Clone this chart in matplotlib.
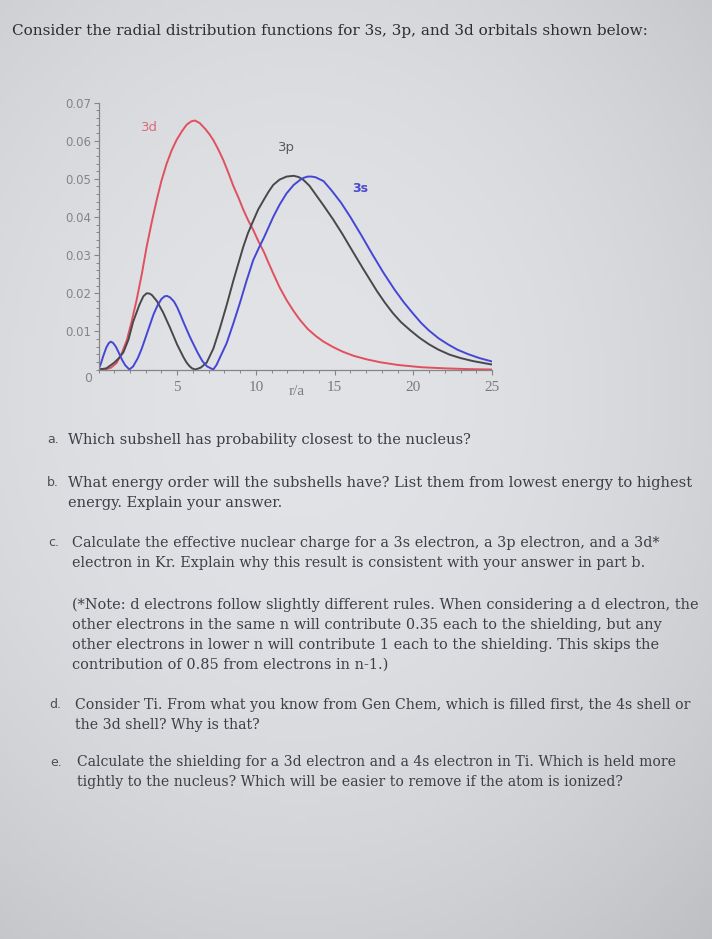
import numpy as np
import matplotlib
matplotlib.use("Agg")
import matplotlib.pyplot as plt
from matplotlib.ticker import MultipleLocator

# ---------- DATA ----------
r_3d = [0, 0.5, 0.8, 1.15, 1.5, 1.8, 2.1, 2.42, 2.75, 3.06, 3.4, 3.7, 4.0, 4.33,
        4.65, 4.96, 5.3, 5.6, 5.9, 6.13, 6.44, 6.8, 7.05, 7.29, 7.6, 7.92, 8.25,
        8.56, 8.9, 9.2, 9.5, 9.83, 10.15, 10.5, 10.8, 11.1, 11.5, 11.95, 12.4,
        12.8, 13.3, 13.8, 14.3, 14.9, 15.5, 16.2, 17.0, 17.9, 19.0, 20.5, 22.0,
        23.5, 25.0]
p_3d = [0, 0.0001, 0.0005, 0.0017, 0.0045, 0.0077, 0.0125, 0.0182, 0.025, 0.0322,
        0.039, 0.0445, 0.0495, 0.054, 0.0575, 0.0602, 0.0625, 0.0642, 0.0651,
        0.0653, 0.0646, 0.063, 0.0617, 0.0602, 0.0578, 0.055, 0.0516, 0.0482,
        0.045, 0.0419, 0.0392, 0.0366, 0.0337, 0.0309, 0.028, 0.0252, 0.0216,
        0.0182, 0.0153, 0.013, 0.0106, 0.0088, 0.0073, 0.0059, 0.0047, 0.0036,
        0.0027, 0.0019, 0.0012, 0.0006, 0.0003, 0.0001, 0.0]

r_3p = [0, 0.5, 1.0, 1.3, 1.58, 1.9, 2.2, 2.6, 2.85, 3.06, 3.25, 3.4, 3.7, 4.1,
        4.54, 5.0, 5.4, 5.6, 5.8, 5.95, 6.13, 6.3, 6.5, 6.87, 7.3, 7.71, 8.15,
        8.56, 8.9, 9.2, 9.5, 9.83, 10.15, 10.5, 10.8, 11.1, 11.5, 11.95, 12.4,
        12.7, 13.0, 13.4, 13.85, 14.3, 14.9, 15.5, 16.0, 16.8, 17.7, 18.2, 18.7,
        19.2, 19.8, 20.4, 21.0, 21.6, 22.3, 23.0, 23.8, 25.0]
p_3p = [0, 0.0003, 0.0018, 0.003, 0.0045, 0.0078, 0.0125, 0.017, 0.0192, 0.02,
        0.0199, 0.0195, 0.018, 0.015, 0.011, 0.0065, 0.0032, 0.0018, 0.0008,
        0.0003, 0.0, 0.0002, 0.0005, 0.0018, 0.0055, 0.0108, 0.017, 0.0232,
        0.028, 0.0322, 0.0358, 0.039, 0.042, 0.0445, 0.0466, 0.0484, 0.0498,
        0.0506, 0.0508, 0.0505, 0.0498, 0.0482, 0.0456, 0.043, 0.0394, 0.0355,
        0.032, 0.0265, 0.0205, 0.0175, 0.0148, 0.0125, 0.0103, 0.0083, 0.0066,
        0.0052, 0.0039, 0.003, 0.0022, 0.0013]

r_3s = [0, 0.15, 0.3, 0.5, 0.65, 0.78, 0.92, 1.1, 1.3, 1.5, 1.7, 1.96, 2.2, 2.5,
        2.75, 3.0, 3.25, 3.5, 3.75, 4.0, 4.2, 4.35, 4.55, 4.8, 5.0, 5.17, 5.4,
        5.6, 5.8, 6.0, 6.3, 6.6, 6.9, 7.29, 7.5, 7.7, 8.14, 8.56, 8.98, 9.4, 9.83,
        10.2, 10.5, 11.1, 11.5, 11.95, 12.4, 12.8, 13.05, 13.3, 13.55, 13.8, 14.3,
        14.8, 15.4, 16.0, 16.7, 17.4, 18.1, 18.8, 19.4, 20.0, 20.5, 21.0, 21.6,
        22.2, 22.8, 23.5, 24.2, 25.0]
p_3s = [0, 0.0015, 0.0035, 0.0058, 0.0069, 0.0073, 0.007, 0.006, 0.0043, 0.0025,
        0.0011, 0.0, 0.0008, 0.003, 0.0055, 0.0085, 0.0115, 0.0145, 0.0168,
        0.0185, 0.0192, 0.0193, 0.0189, 0.0178, 0.0163, 0.0147, 0.0124, 0.0105,
        0.0086, 0.0069, 0.0044, 0.0022, 0.0008, 0.0, 0.0012, 0.003, 0.0069,
        0.012, 0.0174, 0.0232, 0.0287, 0.032, 0.0345, 0.04, 0.0432, 0.0462,
        0.0484, 0.0497, 0.0503, 0.0506, 0.0506, 0.0504, 0.0494, 0.047, 0.0438,
        0.04, 0.0352, 0.0302, 0.0254, 0.021, 0.0176, 0.0146, 0.0122, 0.0102,
        0.0082, 0.0066, 0.0052, 0.004, 0.003, 0.0021]

title = "Consider the radial distribution functions for 3s, 3p, and 3d orbitals shown below:"

questions = [
    ("a.", ["Which subshell has probability closest to the nucleus?"]),
    ("b.", ["What energy order will the subshells have? List them from lowest energy to highest",
            "energy. Explain your answer."]),
    ("c.", ["Calculate the effective nuclear charge for a 3s electron, a 3p electron, and a 3d*",
            "electron in Kr. Explain why this result is consistent with your answer in part b."]),
    ("", ["(*Note: d electrons follow slightly different rules. When considering a d electron, the",
          "other electrons in the same n will contribute 0.35 each to the shielding, but any",
          "other electrons in lower n will contribute 1 each to the shielding. This skips the",
          "contribution of 0.85 from electrons in n-1.)"]),
    ("d.", ["Consider Ti. From what you know from Gen Chem, which is filled first, the 4s shell or",
            "the 3d shell? Why is that?"]),
    ("e.", ["Calculate the shielding for a 3d electron and a 4s electron in Ti. Which is held more",
            "tightly to the nucleus? Which will be easier to remove if the atom is ionized?"]),
]
# first-line y (px), left x (px) and font size of each block
q_y = [440, 483, 543, 605, 705, 762]
q_x = [68, 68, 72, 72, 75, 77]
q_size = [10.5, 10.5, 10.38, 10.43, 10.19, 10.1]
mark_x = [47, 47, 48, 0, 49, 50]

# ---------- FIGURE ----------
W, H = 712, 939
fig = plt.figure(figsize=(W / 100, H / 100), dpi=100)

def fx(x):
    return x / W

def fy(y):
    return 1 - y / H

# photo-like background (lighter middle, darker bottom corners)
bg = fig.add_axes([0, 0, 1, 1], zorder=-10)
yy, xx = np.mgrid[0:1:200j, 0:1:160j]
rr = (xx - 0.42) ** 2 + ((yy - 0.42) * 1.1) ** 2
v = 229 - 48 * rr
img = np.dstack([v - 4, v - 2, v + 1]) / 255.0
bg.imshow(np.clip(img, 0, 1), extent=[0, 1, 0, 1], aspect="auto", origin="upper")
bg.axis("off")

# ---------- CHART ----------
ax = fig.add_axes([fx(98.5), fy(369.5), (492 - 98.5) / W, (369.5 - 102.6) / H])
ax.patch.set_alpha(0)

line_kw = dict(lw=1.4, solid_joinstyle="round", solid_capstyle="round")
ax.plot(r_3d, p_3d, color="#e0505e", **line_kw)
ax.plot(r_3p, p_3p, color="#48484c", **line_kw)
ax.plot(r_3s, p_3s, color="#4646d6", **line_kw)

ax.set_xlim(0, 25)
ax.set_ylim(0, 0.07)
for s in ("top", "right"):
    ax.spines[s].set_visible(False)
for s in ("left", "bottom"):
    ax.spines[s].set_color("#858585")
    ax.spines[s].set_linewidth(0.9)

ax.xaxis.set_major_locator(MultipleLocator(5))
ax.xaxis.set_minor_locator(MultipleLocator(1))
ax.yaxis.set_major_locator(MultipleLocator(0.01))
ax.yaxis.set_minor_locator(MultipleLocator(0.002))
ax.tick_params(axis="both", which="major", length=3.5, width=0.8, color="#858585")
ax.tick_params(axis="both", which="minor", length=2, width=0.7, color="#858585")
ax.tick_params(axis="x", pad=4.5, labelcolor="#7a7a7a")
ax.tick_params(axis="y", pad=1.5, labelcolor="#858585")

ax.set_xticks([5, 10, 15, 20, 25])
ax.set_xticklabels(["5", "10", "15", "20", "25"], family="Liberation Serif", fontsize=11)
yt = [0.01, 0.02, 0.03, 0.04, 0.05, 0.06, 0.07]
ax.set_yticks(yt)
ax.set_yticklabels([f"{t:.2f}" for t in yt], family="DejaVu Sans", fontsize=8.5)

ax.annotate("0", xy=(0, 0), xytext=(-7.5, -6.5), textcoords="offset points",
            ha="center", va="center", fontsize=9, color="#858585", family="DejaVu Sans")
ax.annotate("r/a", xy=(12.6, 0), xytext=(0, -15.5), textcoords="offset points",
            ha="center", va="center", fontsize=11, color="#7a7a7a", family="Liberation Serif")

ax.text(3.27, 0.0634, "3d", color="#d96a78", fontsize=9.5, ha="center", va="center")
ax.text(11.97, 0.0581, "3p", color="#5a5a5e", fontsize=9.5, ha="center", va="center")
ax.text(16.6, 0.0474, "3s", color="#4a4ad0", fontsize=9, ha="center", va="center",
        weight="bold")

# ---------- PAGE TEXT ----------
serif = "DejaVu Serif"
fig.text(fx(12), fy(31), title, family=serif, fontsize=11.0, color="#2e2e34",
         ha="left", va="center")

line_h = 20
for (mark, lines), y0, x0, fs, mx in zip(questions, q_y, q_x, q_size, mark_x):
    if mark:
        fig.text(fx(mx), fy(y0), mark, family="DejaVu Sans", fontsize=9,
                 color="#4e4e55", ha="left", va="center")
    for i, line in enumerate(lines):
        fig.text(fx(x0), fy(y0 + i * line_h), line, family=serif, fontsize=fs,
                 color="#3e3e46", ha="left", va="center")

fig.savefig("out.png", dpi=100)
